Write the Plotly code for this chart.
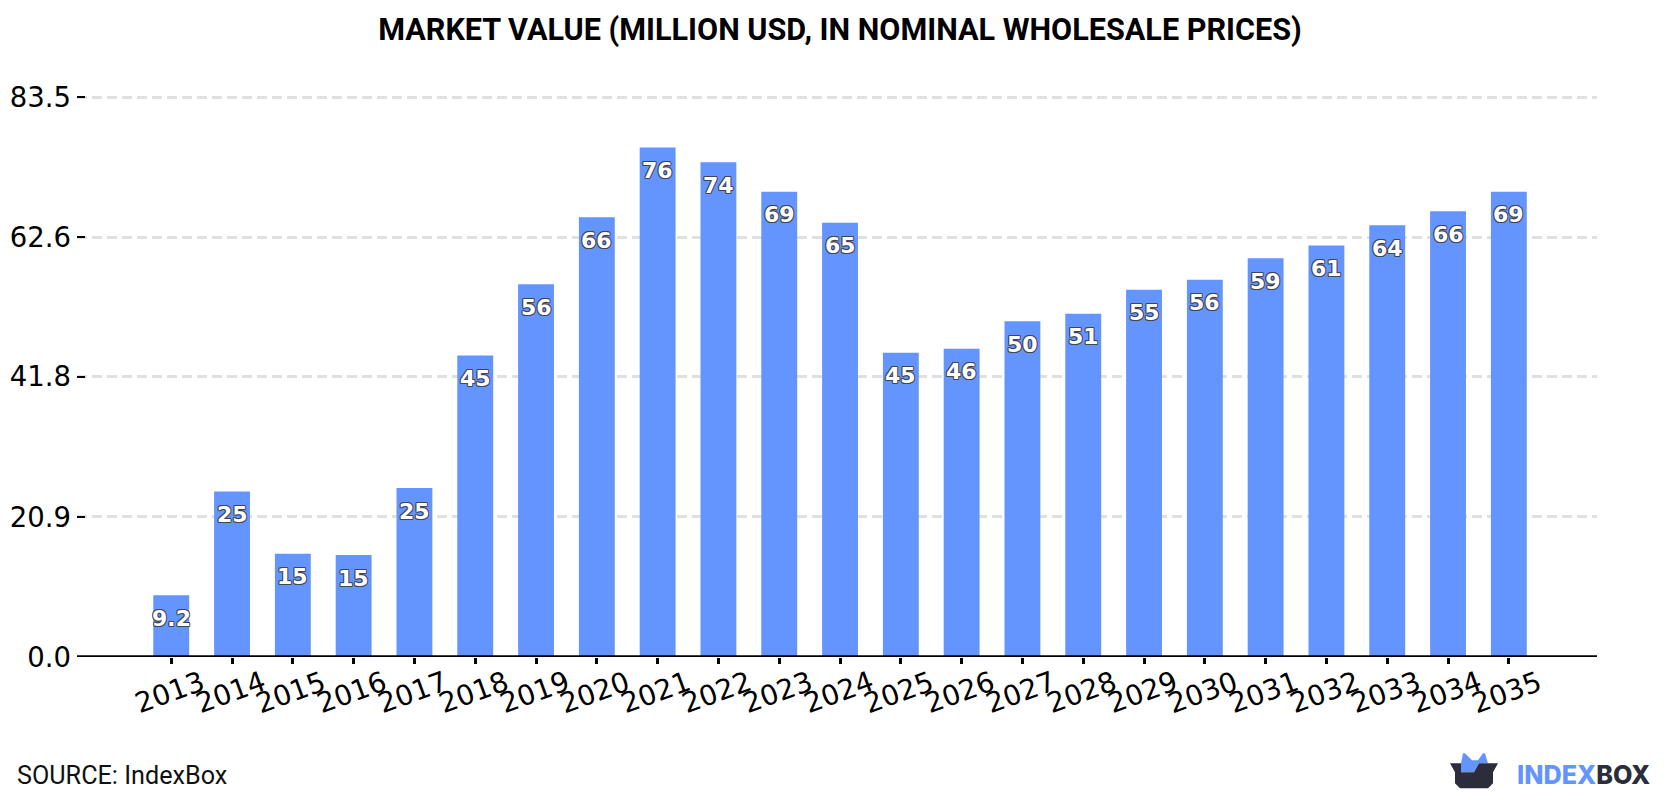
import plotly.graph_objects as go

years = list(range(2013, 2036))
market_value = [9.2, 24.7, 15.4, 15.2, 25.2, 45.0, 55.6, 65.6, 76.0, 73.8, 69.4, 64.8,
                45.4, 46.0, 50.1, 51.2, 54.8, 56.3, 59.49, 61.4, 64.4, 66.49, 69.4]
y_ticks = [0.0, 20.9, 41.8, 62.6, 83.5]
y_tick_labels = ["0.0", "20.9", "41.8", "62.6", "83.5"]

BLUE = "#6495ff"
DARK = "#2b2d3a"
TICK_FONT = "DejaVu Sans"
OUTLINE = "#44444f"
HALO = ", ".join(f"{dx}px {dy}px 0.1px {OUTLINE}" for dx, dy in
                 [(-0.7, -0.7), (0.7, -0.7), (-0.7, 0.7), (0.7, 0.7),
                  (0, 1), (1, 0), (-1, 0), (0, -1)])

# Plot area in page pixels; the top edge sits just above the highest gridline
Y_MAX = 84.0
LEFT, RIGHT, BOTTOM = 77, 1597, 656.8
PX_PER_UNIT = 559.5 / 83.5
TOP = BOTTOM - Y_MAX * PX_PER_UNIT


def px_x(x):
    return (x - LEFT) / (RIGHT - LEFT)


def px_y(y):
    return (BOTTOM - y) / (BOTTOM - TOP)


def path(points):
    return "M" + " L".join(f"{px_x(x):.5f},{px_y(y):.5f}" for x, y in points) + " Z"


fig = go.Figure(go.Bar(x=years, y=market_value, width=0.59, marker=dict(color=BLUE, line_width=0),
                       hoverinfo="x+y"))

# Value labels inside the top of each bar
annotations = [
    dict(x=year, y=value, xref="x", yref="y", text=f"{value:.2g}", showarrow=False,
         yanchor="middle", xanchor="center", yshift=-23,
         font=dict(family=TICK_FONT, size=22, color="white", weight="bold", shadow=HALO))
    for year, value in zip(years, market_value)
]
# Year labels, centred under their ticks
annotations += [
    dict(x=year, y=0, xref="x", yref="y", text=str(year), showarrow=False, textangle=-20,
         xanchor="center", yanchor="middle", yshift=-35, xshift=-2,
         font=dict(family=TICK_FONT, size=28, color="#000000"))
    for year in years
]
annotations += [
    dict(x=px_x(15), y=px_y(775), xref="paper", yref="paper", xanchor="left", yanchor="middle",
         showarrow=False, text="SOURCE: IndexBox",
         font=dict(family="Roboto", size=25.2, color="#111111")),
    dict(x=px_x(1515), y=px_y(775), xref="paper", yref="paper", xanchor="left", yanchor="middle",
         showarrow=False,
         text=f'<span style="color:{BLUE}">INDEX</span><span style="color:{DARK}">BOX</span>',
         font=dict(family="Inter", size=25.2, weight=800)),
]

shapes = [
    # Baseline centred on zero, above the bars
    dict(type="line", xref="paper", yref="y", x0=0, x1=1, y0=0, y1=0, layer="above",
         line=dict(color="#000000", width=3.5)),
    # Box-shaped logo next to the wordmark
    dict(type="path", xref="paper", yref="paper", line_width=0, fillcolor=BLUE,
         path=path([(1461, 772), (1461, 763), (1463, 753), (1465, 753), (1472, 760), (1478, 760),
                    (1483, 753), (1485, 753), (1488, 763), (1479, 763), (1474, 772)])),
    dict(type="path", xref="paper", yref="paper", line_width=0, fillcolor=DARK,
         path=path([(1450, 763), (1461, 763), (1461, 772), (1474, 772), (1479, 763), (1498, 763),
                    (1493, 772), (1493, 783), (1488, 788), (1460, 788), (1455, 783), (1455, 772)])),
]

fig.update_layout(
    width=1680, height=800,
    margin=dict(l=LEFT, r=1680 - RIGHT, t=TOP, b=800 - BOTTOM, autoexpand=False),
    paper_bgcolor="white", plot_bgcolor="white", showlegend=False,
    title=dict(text="<b>MARKET VALUE (MILLION USD, IN NOMINAL WHOLESALE PRICES)</b>",
               x=0.5, xanchor="center", y=0.964, yanchor="middle",
               font=dict(family="Roboto", size=30.6, color="#000000")),
    xaxis=dict(range=[2011.45, 2036.45], tickmode="array", tickvals=years, showticklabels=False,
               ticks="outside", ticklen=6, tickwidth=2.5, tickcolor="#000000",
               showline=False, showgrid=False, zeroline=False),
    yaxis=dict(range=[0, Y_MAX], tickmode="array", tickvals=y_ticks, ticktext=y_tick_labels,
               ticks="inside", ticklen=8, tickwidth=2, tickcolor="#000000", ticklabelstandoff=5,
               tickfont=dict(family=TICK_FONT, size=27.5, color="#000000"),
               showgrid=True, gridcolor="#e0e0e0", gridwidth=2.5, griddash="10px,5px",
               showline=False, zeroline=False),
    annotations=annotations,
    shapes=shapes,
)

fig.write_html("out.html")
